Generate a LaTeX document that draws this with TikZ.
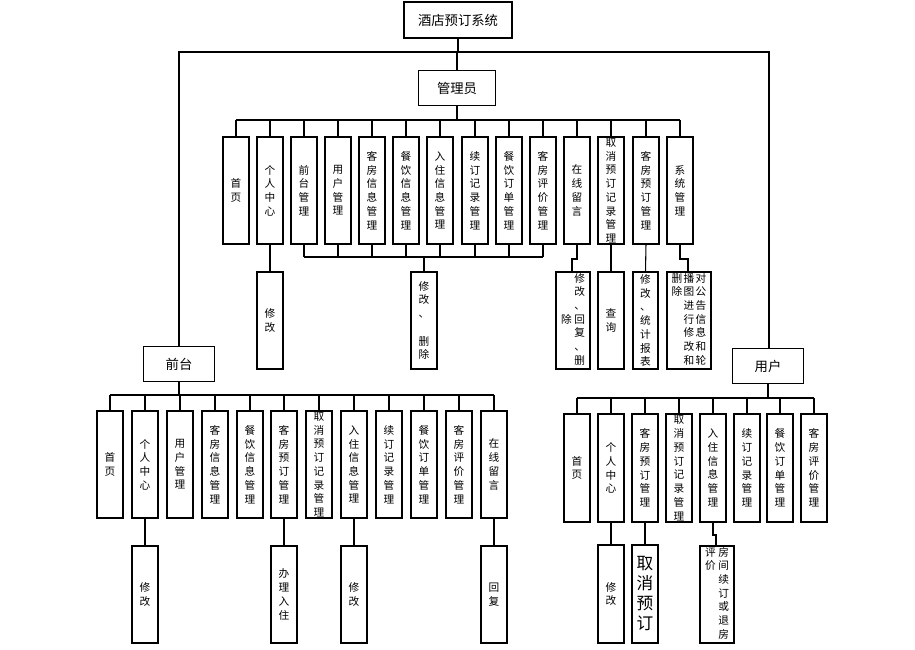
\documentclass[tikz,border=0pt]{standalone}
\usepackage{fontspec}
\newfontfamily\cjk{Noto Sans CJK SC}
\newcommand\vc[1]{\begin{tabular}[t]{@{}c@{}}#1\end{tabular}}
\newcommand\bx[6]{\node[bx,minimum width={(#4-#2)*0.75pt},minimum height={(#5-#3)*0.75pt}] (#1) at ({(#2+#4)/2},{(#3+#5)/2}) {#6};}
\begin{document}
\begin{tikzpicture}[x=0.75pt,y=-0.75pt,line width=0.8pt,
  bx/.style={draw,thick,fill=white,inner sep=0pt,outer sep=0pt,align=center,font=\cjk\fontsize{8}{10.3}\selectfont},
  hd/.style={bx,font=\cjk\fontsize{10}{12}\selectfont}]
\useasboundingbox (0,0) rectangle (915,650);
% top
\node[hd,minimum width=81pt,minimum height=27pt] (sys) at (458,20) {酒店预订系统};
\node[hd,minimum width=58pt,minimum height=26pt] (adm) at (457,88) {管理员};
\node[hd,minimum width=53pt,minimum height=26pt] (fr) at (179,364) {前台};
\node[hd,minimum width=53pt,minimum height=26pt] (us) at (768,366) {用户};
\coordinate (tl) at (179,52); \coordinate (tr) at (769,52);
\draw (sys.south) -- (sys.south |- tl);
\draw (fr.north) -- (tl) -- (tr) -- (us.north -| tr);
\draw (adm.north) -- (adm.north |- tl);
% admin row
\bx{a1}{223}{137}{249}{244}{首\\页}
\bx{a2}{257}{137}{283}{244}{个\\人\\中\\心}
\bx{a3}{291}{137}{317}{244}{前\\台\\管\\理}
\bx{a4}{325}{137}{351}{244}{用\\户\\管\\理}
\bx{a5}{359}{137}{385}{244}{客\\房\\信\\息\\管\\理}
\bx{a6}{393}{137}{419}{244}{餐\\饮\\信\\息\\管\\理}
\bx{a7}{427}{137}{453}{244}{入\\住\\信\\息\\管\\理}
\bx{a8}{462}{137}{488}{244}{续\\订\\记\\录\\管\\理}
\bx{a9}{496}{137}{522}{244}{餐\\饮\\订\\单\\管\\理}
\bx{a10}{530}{137}{556}{244}{客\\房\\评\\价\\管\\理}
\bx{a11}{564}{137}{590}{244}{在\\线\\留\\言}
\bx{a12}{598}{137}{624}{244}{取\\消\\预\\订\\记\\录\\管\\理}
\bx{a13}{633}{137}{659}{244}{客\\房\\预\\订\\管\\理}
\bx{a14}{667}{137}{693}{244}{系\\统\\管\\理}
\coordinate (ab) at (0,120);
\draw (adm.south) -- (adm.south |- ab);
\draw (a1.north |- ab) -- (a14.north |- ab);
\foreach \i in {1,...,14} \draw (a\i.north) -- (a\i.north |- ab);
% admin children
\bx{ac1}{257}{272}{283}{369}{修\\改}
\bx{ac2}{411}{272}{437}{369}{修\\改\\、\\\\删\\除}
\bx{ac3}{556}{272}{590}{369}{\vc{\\\\\\除}\hspace{2pt}\vc{修\\改\\、\\回\\复\\、\\删}}
\bx{ac4}{598}{272}{624}{369}{查\\询}
\bx{ac5}{633}{272}{658}{369}{修\\改\\、\\统\\计\\报\\表}
\bx{ac6}{667}{272}{711}{369}{\vc{删\\除}\hspace{1pt}\vc{播\\图\\进\\行\\修\\改\\和}\hspace{1pt}\vc{对\\公\\告\\信\\息\\和\\轮}}
\draw (ac1.north) -- (a2.south);
\coordinate (ag) at (0,257);
\draw (a3.south |- ag) -- (a10.south |- ag);
\foreach \i in {3,...,10} \draw (a\i.south) -- (a\i.south |- ag);
\draw[line width=1.5pt] (ac2.north) -- (ac2.north |- ag);
\draw (a11.south) -- ++(0,15) -| (572,272);
\draw (a12.south) -- (ac4.north);
\draw (646,244) -- (ac5.north);
\draw (a14.south) -- ++(0,15) -| (688,272);
% front row
\coordinate (fb) at (0,395);
\draw (fr.south) -- (fr.south |- fb);
\bx{f1}{97}{411}{123}{518}{首\\页}
\bx{f2}{132}{411}{158}{518}{个\\人\\中\\心}
\bx{f3}{167}{411}{193}{518}{用\\户\\管\\理}
\bx{f4}{202}{411}{228}{518}{客\\房\\信\\息\\管\\理}
\bx{f5}{237}{411}{263}{518}{餐\\饮\\信\\息\\管\\理}
\bx{f6}{271}{411}{297}{518}{客\\房\\预\\订\\管\\理}
\bx{f7}{306}{411}{332}{518}{取\\消\\预\\订\\记\\录\\管\\理}
\bx{f8}{341}{411}{367}{518}{入\\住\\信\\息\\管\\理}
\bx{f9}{376}{411}{402}{518}{续\\订\\记\\录\\管\\理}
\bx{f10}{411}{411}{437}{518}{餐\\饮\\订\\单\\管\\理}
\bx{f11}{446}{411}{472}{518}{客\\房\\评\\价\\管\\理}
\bx{f12}{481}{411}{507}{518}{在\\线\\留\\言}
\draw (f1.north |- fb) -- (f12.north |- fb);
\foreach \i in {1,...,12} \draw (f\i.north) -- (f\i.north |- fb);
\bx{fc1}{132}{546}{158}{643}{修\\改}
\bx{fc2}{271}{546}{297}{643}{办\\理\\入\\住}
\bx{fc3}{341}{546}{367}{643}{修\\改}
\bx{fc4}{481}{546}{507}{643}{回\\复}
\draw (f2.south) -- (fc1.north);
\draw (f6.south) -- (fc2.north);
\draw (f8.south) -- (fc3.north);
\draw (f12.south) -- (fc4.north);
% user row
\coordinate (ub) at (0,398);
\draw (us.south) -- (us.south |- ub);
\bx{u1}{564}{414}{590}{522}{首\\页}
\bx{u2}{598}{414}{624}{522}{个\\人\\中\\心}
\bx{u3}{632}{414}{658}{522}{客\\房\\预\\订\\管\\理}
\bx{u4}{666}{414}{692}{522}{取\\消\\预\\订\\记\\录\\管\\理}
\bx{u5}{700}{414}{726}{522}{入\\住\\信\\息\\管\\理}
\bx{u6}{734}{414}{760}{522}{续\\订\\记\\录\\管\\理}
\bx{u7}{767}{414}{793}{522}{餐\\饮\\订\\单\\管\\理}
\bx{u8}{801}{414}{827}{522}{客\\房\\评\\价\\管\\理}
\draw (u1.north |- ub) -- (u8.north |- ub);
\foreach \i in {1,...,8} \draw (u\i.north) -- (u\i.north |- ub);
\bx{uc1}{598}{545}{624}{643}{修\\改}
\node[bx,font=\cjk\fontsize{12.5}{15}\selectfont,minimum width=19.5pt,minimum height=73.5pt] (uc2) at (645,594) {取\\消\\预\\订};
\bx{uc3}{700}{546}{734}{643}{\vc{评\\价}\hspace{2pt}\vc{房\\间\\续\\订\\或\\退\\房}}
\draw (u2.south) -- (uc1.north);
\draw (u3.south) -- (uc2.north);
\draw (u5.south) -- ++(0,13) -| (716,546);
\end{tikzpicture}
\end{document}
